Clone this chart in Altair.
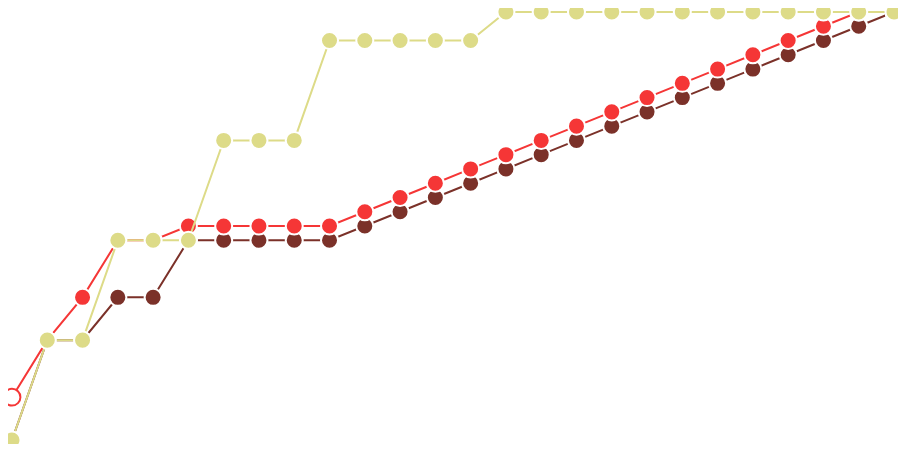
import altair as alt
import pandas as pd

steps = list(range(26))
dark_vals = [0, 7, 7, 10, 10, 14, 14, 14, 14, 14, 15, 16, 17, 18, 19, 20, 21, 22, 23, 24, 25, 26, 27, 28, 29, 30]
red_vals = [3, 7, 10, 14, 14, 15, 15, 15, 15, 15, 16, 17, 18, 19, 20, 21, 22, 23, 24, 25, 26, 27, 28, 29, 30, 30]
yellow_vals = [0, 7, 7, 14, 14, 14, 21, 21, 21, 28, 28, 28, 28, 28, 30, 30, 30, 30, 30, 30, 30, 30, 30, 30, 30, 30]

DARK = "#7b3129"
RED = "#f53636"
YELLOW = "#dddb88"

dark_df = pd.DataFrame({"x": steps, "y": dark_vals})
red_df = pd.DataFrame({"x": steps, "y": red_vals})
yellow_df = pd.DataFrame({"x": steps, "y": yellow_vals})

xs = alt.Scale(domain=[-0.11338, 25.1134], nice=False, zero=False)
ys = alt.Scale(domain=[-0.28037, 30.2804], nice=False, zero=False)
X = alt.X("x:Q", scale=xs, axis=None)
Y = alt.Y("y:Q", scale=ys, axis=None)

def series(df, color, hollow_first=False):
    line = alt.Chart(df).mark_line(color=color, strokeWidth=2).encode(x=X, y=Y)
    if hollow_first:
        pts = alt.Chart(df[df.x > 0]).mark_circle(
            size=290, opacity=1, color=color, stroke="white", strokeWidth=2
        ).encode(x=X, y=Y)
        first = alt.Chart(df[df.x == 0]).mark_point(
            size=283, opacity=1, filled=False, fill="white", fillOpacity=1,
            stroke=color, strokeWidth=2, shape="circle"
        ).encode(x=X, y=Y)
        return [line, pts, first]
    pts = alt.Chart(df).mark_circle(
        size=290, opacity=1, color=color, stroke="white", strokeWidth=2
    ).encode(x=X, y=Y)
    return [line, pts]

layers = series(dark_df, DARK) + series(red_df, RED, hollow_first=True) + series(yellow_df, YELLOW)

chart = alt.layer(*layers).properties(
    width=890, height=436,
    autosize=alt.AutoSizeParams(type="none"),
    padding=0,
    background="white",
).configure_view(strokeWidth=0)

chart.save("out.html", embed_options={"renderer": "svg", "actions": False})
